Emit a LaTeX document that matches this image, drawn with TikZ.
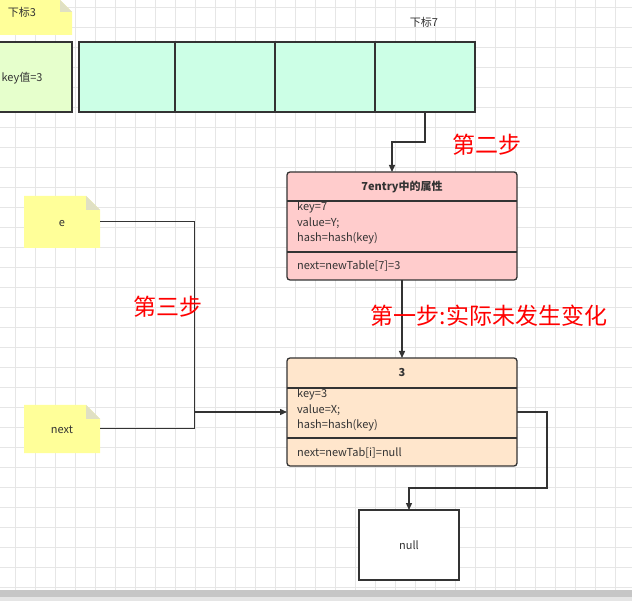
\documentclass[tikz,border=0pt]{standalone}
\usepackage{fontspec}
\setmainfont{Noto Sans CJK SC}
\usetikzlibrary{arrows.meta}
\definecolor{gridc}{HTML}{E6E6E6}
\definecolor{notec}{HTML}{FFFF99}
\definecolor{keyc}{HTML}{E6FFCC}
\definecolor{cellc}{HTML}{CCFFE6}
\definecolor{ent1}{HTML}{FFCCCC}
\definecolor{ent2}{HTML}{FFE6CC}
\definecolor{edge}{HTML}{333333}
\tikzset{
 txt/.style={font=\fontsize{11}{15.5}\selectfont, text=edge},
 box/.style={draw=edge, line width=1.3pt},
 conn/.style={draw=edge, line width=1.3pt, -{Triangle[length=7pt,width=6pt]}},
 red/.style={font=\fontsize{23}{27}\selectfont, text=red},
 note/.style={fill=notec},
}
\begin{document}
\begin{tikzpicture}[x=1pt,y=-1pt]
\useasboundingbox (0,0) rectangle (632,601);
\fill[white] (0,0) rectangle (632,601);
\foreach \i in {0,20,...,620} \draw[gridc,line width=0.5pt] (\i+15,0) -- (\i+15,590);
\foreach \j in {0,20,...,580} \draw[gridc,line width=0.5pt] (0,\j+7) -- (632,\j+7);
% notes
\fill[note] (-2,0) -- (60,0) -- (72,12) -- (72,35) -- (-2,35) -- cycle;
\fill[notec!70!black!40] (60,0) -- (72,12) -- (60,12) -- cycle;
\node[txt] (n3) at (22,12) {下标3};
\fill[note] (24,196) -- (86,196) -- (100,210) -- (100,248) -- (24,248) -- cycle;
\fill[notec!70!black!40] (86,196) -- (100,210) -- (86,210) -- cycle;
\node[txt] (e) at (62,224) {e};
\coordinate (eo) at (100,222);
\fill[note] (24,405) -- (86,405) -- (100,419) -- (100,453) -- (24,453) -- cycle;
\fill[notec!70!black!40] (86,405) -- (100,419) -- (86,419) -- cycle;
\node[txt] (nx) at (62,430) {next};
\coordinate (nxo) at (100,429);
% key box
\draw[box,fill=keyc] (-2,42) rectangle (72,112);
\node[txt] (k3) at (22,78) {key值=3};
% array
\draw[box,fill=cellc] (79,42) rectangle (475,112);
\foreach \x in {175,275,375} \draw[box] (\x,42) -- (\x,112);
\node[txt] (i7) at (424,22) {下标7};
\coordinate (c7) at (425,112);
% entry 1
\draw[box,fill=ent1,rounded corners=3pt] (287,172) rectangle (517,280);
\draw[box] (287,201) -- (517,201); \draw[box] (287,252) -- (517,252);
\node[txt,font=\bfseries\fontsize{11}{13}\selectfont] (h1) at (402,187) {7entry中的属性};
\node[txt,anchor=north west,align=left,inner sep=0pt] (a1) at (297,202) {key=7\\value=Y;\\hash=hash(key)};
\node[txt,anchor=west,inner sep=0pt] (nx1) at (297,266) {next=newTable[7]=3};
\coordinate (E1t) at (392,172); \coordinate (E1b) at (402,280);
% entry 2
\draw[box,fill=ent2,rounded corners=3pt] (287,358) rectangle (517,466);
\draw[box] (287,388) -- (517,388); \draw[box] (287,438) -- (517,438);
\node[txt,font=\bfseries\fontsize{11}{13}\selectfont] (h2) at (402,373) {3};
\node[txt,anchor=north west,align=left,inner sep=0pt] (a2) at (297,389) {key=3\\value=X;\\hash=hash(key)};
\node[txt,anchor=west,inner sep=0pt] (nx2) at (297,453) {next=newTab[i]=null};
\coordinate (E2t) at (402,358); \coordinate (E2l) at (287,412); \coordinate (E2r) at (517,412);
% null
\draw[box,fill=white] (359,510) rectangle (459,580);
\node[txt] (nl) at (409,545) {null};
\coordinate (nlt) at (409,510);
% connectors
\draw[conn] (c7) -- (425,142) -- (392,142) -- (E1t);
\draw[conn] (E1b) -- (E2t);
\draw[box,line width=1pt] (eo) -- (194,222) -- (194,412);
\draw[box,line width=1pt] (nxo) -- (194,429) -- (194,412);
\draw[conn] (194,412) -- (E2l);
\draw[conn] (E2r) -- (547,412) -- (547,488) -- (409,488) -- (nlt);
% red labels
\node[red] (s2) at (487,145) {第二步};
\node[red] (s3) at (168,307) {第三步};
\node[red] (s1) at (489,316) {第一步:实际未发生变化};
% bottom bar
\fill[gray!45] (0,590) rectangle (632,597);
\fill[gray!20] (0,597) rectangle (632,601);
\end{tikzpicture}
\end{document}
